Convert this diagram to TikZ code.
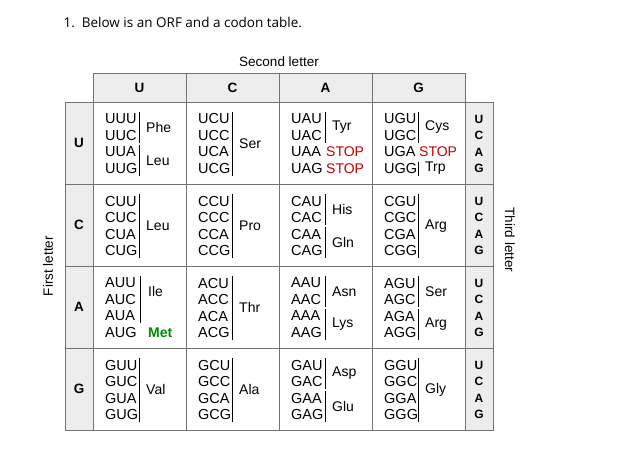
\documentclass[tikz,border=0pt]{standalone}
\usepackage{fontspec}
\setmainfont{Liberation Sans}
\newfontfamily\osans{Open Sans}
\begin{document}
\begin{tikzpicture}[x=1pt,y=-1pt,
  hdr/.style={fill=black!7,draw=black!55,line width=0.8pt},
  cellb/.style={draw=black!55,line width=0.8pt},
  cod/.style={anchor=west,inner sep=0pt,font=\fontsize{14.5}{15}\selectfont},
  aa/.style={anchor=west,inner sep=0pt,font=\fontsize{14}{15}\selectfont},
  bar/.style={line width=1pt},
  big/.style={font=\bfseries\fontsize{13.5}{14}\selectfont,inner sep=0pt}]
\useasboundingbox (0,0) rectangle (623,467);
\node[anchor=west,font=\osans\fontsize{13.5}{15}\selectfont] (title) at (60,22) {1.\ \ Below is an ORF and a codon table.};
\node[font=\fontsize{13.5}{15}\selectfont] (sec) at (279,62) {Second letter};
\node[font=\fontsize{13.5}{15}\selectfont,rotate=90] (fir) at (48,266) {First letter};
\node[font=\fontsize{13.5}{15}\selectfont,rotate=-90] (thi) at (510,240) {Third letter};
% headers
\foreach \l [count=\i from 0] in {U,C,A,G}{
  \path[hdr] (93+93*\i,73) rectangle (186+93*\i,102);
  \node[big] (h\l) at (139.5+93*\i,88) {\l};
}
\foreach \l [count=\i from 0] in {U,C,A,G}{
  \pgfmathsetmacro\T{102+82*\i}
  \path[hdr] (65,\T) rectangle (93,\T+82);
  \node[big] (f\l) at (79,\T+41) {\l};
  \path[hdr] (465,\T) rectangle (493,\T+82);
  \foreach \m [count=\k from 0] in {U,C,A,G}
    \node[big,font=\bfseries\fontsize{12}{12}\selectfont] (t\l\m) at (479,\T+17+16.5*\k) {\m};
  \foreach \a [count=\j from 0] in {U,C,A,G}{
    \path[cellb] (93+93*\j,\T) rectangle (186+93*\j,\T+82);
    \foreach \m [count=\k from 0] in {U,C,A,G}
      \node[cod] (c\l\a\m) at (93+93*\j+12,\T+17+16.5*\k) {\l\a\m};
  }
}
% group: col j, row i, from k1 to k2, label
\newcommand\grp[5]{%
  \pgfmathsetmacro\X{93+93*#1+46}%
  \pgfmathsetmacro\Ya{102+82*#2+17+16.5*#3-7}%
  \pgfmathsetmacro\Yb{102+82*#2+17+16.5*#4+7}%
  \draw[bar] (\X,\Ya) -- (\X,\Yb);
  \node[aa] at (\X+7,{(\Ya+\Yb)/2}) {#5};}
% row U
\grp{0}{0}{0}{1}{Phe}\grp{0}{0}{2}{3}{Leu}
\grp{1}{0}{0}{3}{Ser}
\grp{2}{0}{0}{1}{Tyr}
\node[aa,text=red!75!black] (s1) at (279+47,102+17+33) {STOP};
\node[aa,text=red!75!black] (s2) at (279+47,102+17+49.5) {STOP};
\grp{3}{0}{0}{1}{Cys}
\node[aa,text=red!75!black] (s3) at (372+47,102+17+33) {STOP};
\grp{3}{0}{3}{3}{Trp}
% row C
\grp{0}{1}{0}{3}{Leu}\grp{1}{1}{0}{3}{Pro}
\grp{2}{1}{0}{1}{His}\grp{2}{1}{2}{3}{Gln}
\grp{3}{1}{0}{3}{Arg}
% row A
\draw[bar] (140,266+10) -- (140,266+17+33+7);
\node[aa] (ile) at (148,266+17+8) {Ile};
\node[aa,text=green!55!black,font=\bfseries\fontsize{14}{15}\selectfont] (met) at (148,266+17+49.5) {Met};
\grp{1}{2}{0}{3}{Thr}
\grp{2}{2}{0}{1}{Asn}\grp{2}{2}{2}{3}{Lys}
\grp{3}{2}{0}{1}{Ser}\grp{3}{2}{2}{3}{Arg}
% row G
\grp{0}{3}{0}{3}{Val}\grp{1}{3}{0}{3}{Ala}
\grp{2}{3}{0}{1}{Asp}\grp{2}{3}{2}{3}{Glu}
\grp{3}{3}{0}{3}{Gly}
\end{tikzpicture}
\end{document}
